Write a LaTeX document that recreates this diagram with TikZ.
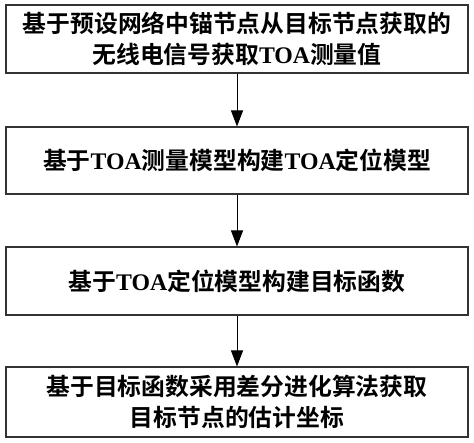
\documentclass[tikz,border=0pt]{standalone}
\usepackage{fontspec}
\setmainfont{Liberation Serif}
\newfontfamily\cjk{Noto Sans CJK SC}[BoldFont={Noto Sans CJK SC Bold}]
\newcommand{\toa}{{\rmfamily\bfseries TOA}}
\usetikzlibrary{arrows.meta}
\tikzset{
  stepbox/.style={draw=black!80, line width=1.1pt, minimum width=462pt, align=center,
    inner sep=0pt, font=\cjk\bfseries\fontsize{23.8pt}{31.5pt}\selectfont},
  flow/.style={draw=black, line width=1pt, -{Triangle[length=16pt,width=12pt]}}
}
\begin{document}
\begin{tikzpicture}[x=1pt,y=1pt]
\useasboundingbox (0,0) rectangle (474,-443);
\fill[white] (0,0) rectangle (474,-443);
\node[stepbox, minimum height=68pt] (b1) at (237,-39) {基于预设网络中锚节点从目标节点获取的\\无线电信号获取\toa 测量值};
\node[stepbox, minimum height=67pt] (b2) at (237,-160.5) {基于\toa 测量模型构建\toa 定位模型};
\node[stepbox, minimum height=68pt] (b3) at (237,-281) {基于\toa 定位模型构建目标函数};
\node[stepbox, minimum height=70pt] (b4) at (237,-402) {基于目标函数采用差分进化算法获取\\目标节点的估计坐标};
\draw[flow] (b1) -- (b2);
\draw[flow] (b2) -- (b3);
\draw[flow] (b3) -- (b4);
\end{tikzpicture}
\end{document}
